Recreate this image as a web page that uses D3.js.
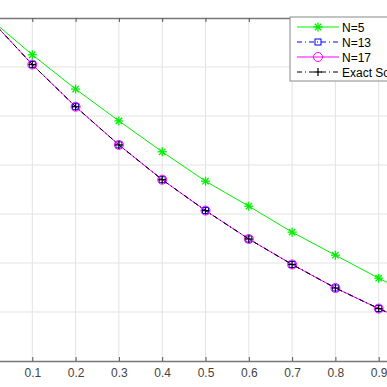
<!DOCTYPE html>
<html>
<head>
<meta charset="utf-8">
<script src="https://cdn.jsdelivr.net/npm/d3@7"></script>
<style>
  body { margin: 0; background: #fff; overflow: hidden; }
  svg { display: block; font-family: "Liberation Sans", Arial, sans-serif; }
</style>
</head>
<body>
<div id="chart"></div>
<script>
const xValues = [0, 0.1, 0.2, 0.3, 0.4, 0.5, 0.6, 0.7, 0.8, 0.9, 1.0]
const n5 = [1, 0.925, 0.855, 0.790, 0.727, 0.667, 0.616, 0.563, 0.516, 0.469, 0.425]
const n13 = [1, 0.905, 0.819, 0.741, 0.670, 0.607, 0.549, 0.497, 0.449, 0.407, 0.368]
const n17 = [1, 0.905, 0.819, 0.741, 0.670, 0.607, 0.549, 0.497, 0.449, 0.407, 0.368]
const exact = [1, 0.905, 0.819, 0.741, 0.670, 0.607, 0.549, 0.497, 0.449, 0.407, 0.368]
const xTicks = [0.1, 0.2, 0.3, 0.4, 0.5, 0.6, 0.7, 0.8, 0.9]
const yGrid = [0.4, 0.5, 0.6, 0.7, 0.8, 0.9]
const seriesNames = ["N=5", "N=13", "N=17", "Exact Solution"]

const width = 387, height = 387

// the original figure is cropped: the left axis sits just off the page
const x = d3.scaleLinear().domain([0, 1]).range([-11, 422])
const y = d3.scaleLinear().domain([0.3, 1]).range([361, 18])

const svg = d3.select("#chart").append("svg")
    .attr("width", width)
    .attr("height", height)

// grid
svg.append("g").selectAll("line").data(xTicks).enter().append("line")
    .attr("x1", d => x(d)).attr("x2", d => x(d))
    .attr("y1", y(1)).attr("y2", y(0.3))
    .attr("stroke", "#e3e3e3").attr("stroke-width", 1)
svg.append("g").selectAll("line").data(yGrid).enter().append("line")
    .attr("x1", x(0)).attr("x2", x(1))
    .attr("y1", d => y(d)).attr("y2", d => y(d))
    .attr("stroke", "#e3e3e3").attr("stroke-width", 1)

// axes: bottom with labels, top as box edge
const xAxis = svg.append("g")
    .attr("transform", `translate(0,${y(0.3)})`)
    .call(d3.axisBottom(x).tickValues(xTicks).tickSize(-4).tickPadding(7).tickFormat(d3.format(".1f")))
xAxis.select(".domain").attr("stroke", "#777").attr("stroke-width", 1.5)
xAxis.selectAll(".tick line").attr("stroke", "#555")
xAxis.selectAll("text").attr("fill", "#444").style("font-size", "12px")

const topAxis = svg.append("g")
    .attr("transform", `translate(0,${y(1)})`)
    .call(d3.axisTop(x).tickValues(xTicks).tickSize(-4).tickFormat(""))
topAxis.select(".domain").attr("stroke", "#777").attr("stroke-width", 1.5)
topAxis.selectAll(".tick line").attr("stroke", "#555")

const series = [
    { name: seriesNames[0], values: n5, color: "#00ee00", dash: null, marker: "star" },
    { name: seriesNames[1], values: n13, color: "#0000ff", dash: "5,3,1,3", marker: "square" },
    { name: seriesNames[2], values: n17, color: "#ff00ff", dash: null, marker: "circle" },
    { name: seriesNames[3], values: exact, color: "#000000", dash: "5,3,1,3", marker: "plus" }
]

const line = d3.line().x((d, i) => x(xValues[i])).y(d => y(d))

function drawMarker(g, type, color) {
    if (type === "star") {
        const r = 4.5
        ;[0, 45, 90, 135].forEach(a => {
            const rad = a * Math.PI / 180
            g.append("line")
                .attr("x1", -r * Math.cos(rad)).attr("y1", -r * Math.sin(rad))
                .attr("x2", r * Math.cos(rad)).attr("y2", r * Math.sin(rad))
                .attr("stroke", color).attr("stroke-width", 1.3)
        })
    } else if (type === "square") {
        g.append("rect").attr("x", -3).attr("y", -3).attr("width", 6).attr("height", 6)
            .attr("fill", "none").attr("stroke", color).attr("stroke-width", 1)
    } else if (type === "circle") {
        g.append("circle").attr("r", 4.5)
            .attr("fill", "none").attr("stroke", color).attr("stroke-width", 1)
    } else if (type === "plus") {
        g.append("line").attr("x1", -4).attr("x2", 4).attr("y1", 0).attr("y2", 0)
            .attr("stroke", color).attr("stroke-width", 1.2)
        g.append("line").attr("x1", 0).attr("x2", 0).attr("y1", -4).attr("y2", 4)
            .attr("stroke", color).attr("stroke-width", 1.2)
    }
}

const plot = svg.append("g")
series.forEach(s => {
    plot.append("path")
        .datum(s.values)
        .attr("d", line)
        .attr("fill", "none")
        .attr("stroke", s.color)
        .attr("stroke-width", 1)
        .attr("stroke-dasharray", s.dash)
    s.values.forEach((v, i) => {
        const g = plot.append("g").attr("transform", `translate(${x(xValues[i])},${y(v)})`)
        drawMarker(g, s.marker, s.color)
    })
})

// legend
const legend = svg.append("g").attr("transform", "translate(290,17)")
legend.append("rect")
    .attr("width", 110).attr("height", 64)
    .attr("fill", "#fff").attr("stroke", "#888").attr("stroke-width", 1)

series.forEach((s, i) => {
    const row = legend.append("g").attr("transform", `translate(0,${10 + i * 15})`)
    row.append("line")
        .attr("x1", 7).attr("x2", 49).attr("y1", 0).attr("y2", 0)
        .attr("stroke", s.color).attr("stroke-width", 1)
        .attr("stroke-dasharray", s.dash)
    drawMarker(row.append("g").attr("transform", "translate(28,0)"), s.marker, s.color)
    row.append("text")
        .attr("x", 52).attr("y", 4.5)
        .style("font-size", "12px")
        .attr("fill", "#000")
        .text(s.name)
})
</script>
</body>
</html>
